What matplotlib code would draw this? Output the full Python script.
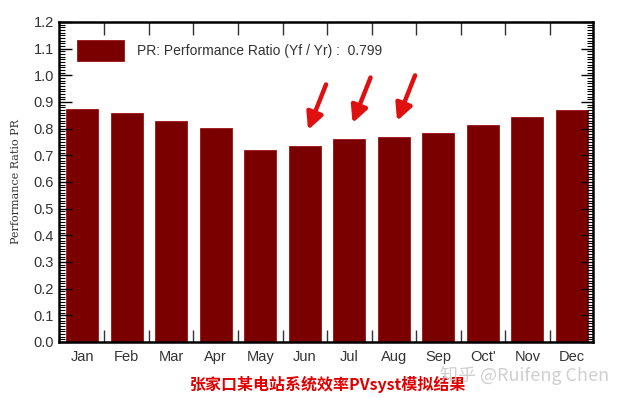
import matplotlib.pyplot as plt
import numpy as np
from matplotlib.ticker import MultipleLocator, FixedLocator

months = ["Jan", "Feb", "Mar", "Apr", "May", "Jun", "Jul", "Aug", "Sep", "Oct'", "Nov", "Dec"]
pr_values = [0.874, 0.859, 0.829, 0.802, 0.720, 0.735, 0.761, 0.769, 0.784, 0.814, 0.844, 0.870]
pr_mean = 0.799
arrow_months = [5, 6, 7]  # Jun, Jul, Aug

plt.rcParams['font.family'] = ['Liberation Sans', 'DejaVu Sans']

fig = plt.figure(figsize=(6.28, 3.98), dpi=100)
ax = fig.add_axes([0.094, 0.141, 0.85, 0.804])

x = np.arange(len(months))
ax.bar(x, pr_values, width=0.72, color="#7a0000", edgecolor="#a01010", linewidth=0.6,
       label=f"PR: Performance Ratio (Yf / Yr) :  {pr_mean}")

ax.set_xlim(-0.52, 11.47)
ax.set_ylim(0, 1.2)
ax.set_xticks(x)
ax.set_xticklabels(months, fontsize=10.5, color="#333333")
ax.xaxis.set_minor_locator(FixedLocator(x[:-1] + 0.5))
ax.tick_params(axis="x", which="major", length=0, pad=6)
ax.tick_params(axis="x", which="minor", direction="in", length=9, top=True, bottom=True, width=1, color="#333333")

ax.yaxis.set_minor_locator(MultipleLocator(0.01))
ax.set_yticks(np.round(np.arange(0, 1.21, 0.1), 1))
ax.set_yticklabels([f"{v:.1f}" for v in np.arange(0, 1.21, 0.1)], fontsize=10.5, color="#333333")
ax.tick_params(axis="y", which="major", direction="in", length=9, width=1, left=True, right=True)
ax.tick_params(axis="y", which="minor", direction="in", length=4, width=0.8, left=True, right=True)

for s in ax.spines.values():
    s.set_linewidth(1.8)

ax.set_ylabel("Performance Ratio PR", family="DejaVu Serif", fontsize=8, color="#333333", labelpad=9)

leg = ax.legend(loc="upper left", frameon=False, fontsize=10, handlelength=3.4, handleheight=1.9,
                handletextpad=0.9, borderaxespad=0.9)
for t in leg.get_texts():
    t.set_color("#333333")

for m in arrow_months:
    ax.annotate("", xy=(m + 0.05, pr_values[m] + 0.05), xytext=(m + 0.5, pr_values[m] + 0.24),
                arrowprops=dict(arrowstyle="-|>,head_length=1.0,head_width=0.5", color="#e01010", lw=3.2))

fig.text(0.522, 0.035, "张家口某电站系统效率PVsyst模拟结果", color="#e00000", fontsize=11.5, weight="bold",
         family=["Noto Sans CJK SC", "DejaVu Sans"], ha="center", va="center")
fig.text(0.835, 0.058, "知乎 @Ruifeng Chen", color="#d0d0d0", fontsize=13,
         family=["Noto Sans CJK SC", "DejaVu Sans"], ha="center", va="center")

fig.savefig("out.png", dpi=100)
